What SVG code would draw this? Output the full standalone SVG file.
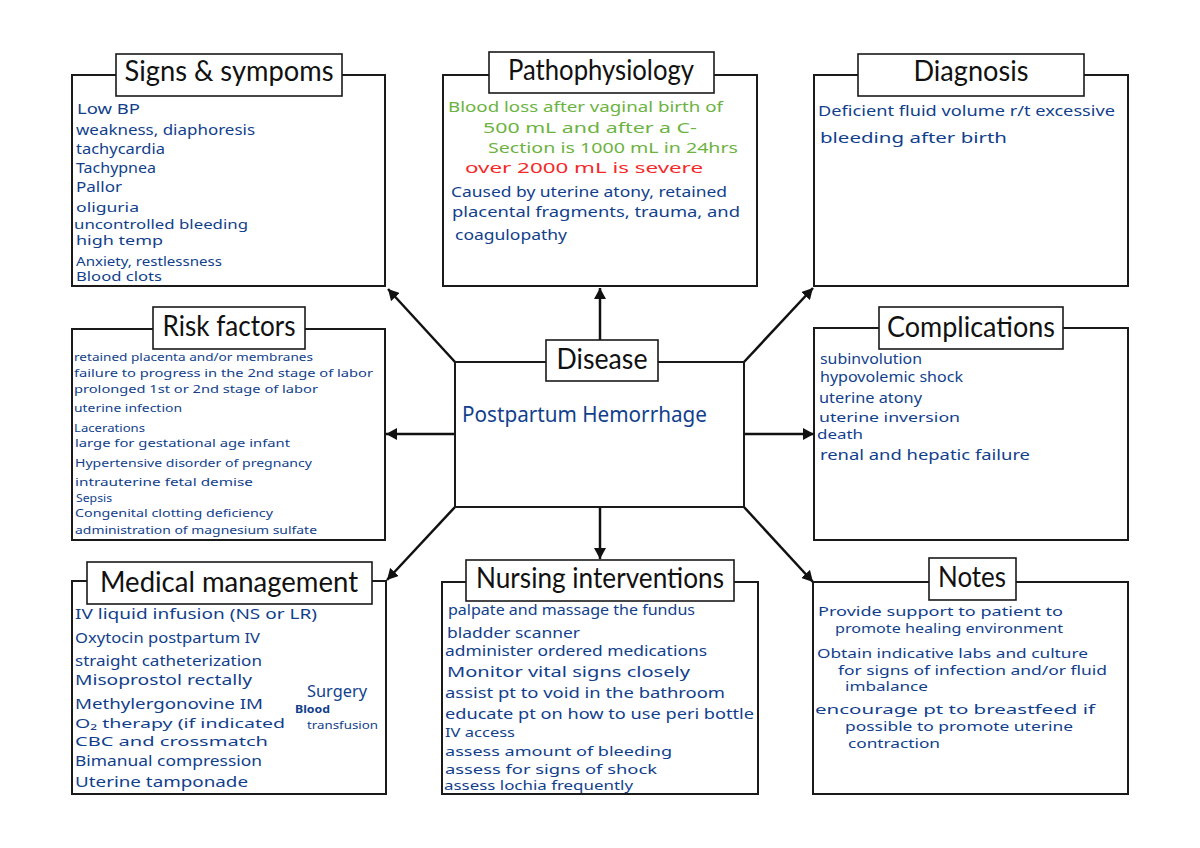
<svg xmlns="http://www.w3.org/2000/svg" width="1200" height="848" viewBox="0 0 1200 848">
<style>
.box{fill:#fff;stroke:#1a1a1a;stroke-width:2}
.tbox{fill:#fff;stroke:#1a1a1a;stroke-width:1.6}
.title{font-family:Lato,"Noto Sans","DejaVu Sans",sans-serif;font-size:28px;fill:#111;text-anchor:middle}
.h{font-family:"Noto Sans","DejaVu Sans",sans-serif;font-size:14px;fill:#123f8c}
.t{font-size:12.5px}
.s{font-size:11px}
.g{fill:#6cb33f}
.r{fill:#f42a2a}
.c{stroke:#111;stroke-width:2.5;fill:none}
</style>
<defs>
<marker id="ah" markerUnits="userSpaceOnUse" markerWidth="12" markerHeight="12" refX="11" refY="6" orient="auto">
<path d="M0,0 L11,6 L0,12 z" fill="#111"/>
</marker>
</defs>
<rect width="1200" height="848" fill="#fff"/>

<g id="connectors">
<line class="c" x1="600" y1="340" x2="600" y2="288" marker-end="url(#ah)"/>
<line class="c" x1="600" y1="507" x2="600" y2="559" marker-end="url(#ah)"/>
<line class="c" x1="455" y1="434" x2="386" y2="434" marker-end="url(#ah)"/>
<line class="c" x1="744" y1="434" x2="814" y2="434" marker-end="url(#ah)"/>
<line class="c" x1="455" y1="362" x2="388" y2="289" marker-end="url(#ah)"/>
<line class="c" x1="744" y1="362" x2="813" y2="288" marker-end="url(#ah)"/>
<line class="c" x1="455" y1="507" x2="387" y2="580" marker-end="url(#ah)"/>
<line class="c" x1="744" y1="507" x2="813" y2="582" marker-end="url(#ah)"/>
</g>

<g id="disease">
<rect class="box" x="455" y="362" width="289" height="145"/>
<rect class="tbox" x="546" y="340" width="112" height="41"/>
<text class="title" x="602" y="369" textLength="91" lengthAdjust="spacingAndGlyphs">Disease</text>
<text class="h" x="462" y="422" style="font-size:21px" textLength="245" lengthAdjust="spacingAndGlyphs">Postpartum Hemorrhage</text>
</g>

<g id="signs">
<rect class="box" x="72" y="75" width="313" height="211"/>
<rect class="tbox" x="116" y="54" width="226" height="42"/>
<text class="title" x="229" y="81" textLength="209" lengthAdjust="spacingAndGlyphs">Signs &amp; sympoms</text>
<text class="h" x="77" y="114" textLength="63" lengthAdjust="spacingAndGlyphs">Low BP</text>
<text class="h" x="76" y="135" textLength="179" lengthAdjust="spacingAndGlyphs">weakness, diaphoresis</text>
<text class="h" x="76" y="154" textLength="89" lengthAdjust="spacingAndGlyphs">tachycardia</text>
<text class="h" x="76" y="173" textLength="80" lengthAdjust="spacingAndGlyphs">Tachypnea</text>
<text class="h" x="76" y="192" textLength="46" lengthAdjust="spacingAndGlyphs">Pallor</text>
<text class="h t" x="76" y="212" textLength="63" lengthAdjust="spacingAndGlyphs">oliguria</text>
<text class="h t" x="74" y="229" textLength="174" lengthAdjust="spacingAndGlyphs">uncontrolled bleeding</text>
<text class="h t" x="76" y="245" textLength="87" lengthAdjust="spacingAndGlyphs">high temp</text>
<text class="h t" x="76" y="266" textLength="146" lengthAdjust="spacingAndGlyphs">Anxiety, restlessness</text>
<text class="h t" x="76" y="281" textLength="86" lengthAdjust="spacingAndGlyphs">Blood clots</text>
</g>

<g id="pathophysiology">
<rect class="box" x="443" y="75" width="314" height="211"/>
<rect class="tbox" x="489" y="52" width="225" height="41"/>
<text class="title" x="601" y="80" textLength="186" lengthAdjust="spacingAndGlyphs">Pathophysiology</text>
<text class="h g" x="448" y="112" textLength="275" lengthAdjust="spacingAndGlyphs">Blood loss after vaginal birth of</text>
<text class="h g" x="483" y="133" textLength="214" lengthAdjust="spacingAndGlyphs">500 mL  and after a C-</text>
<text class="h g" x="488" y="153" textLength="250" lengthAdjust="spacingAndGlyphs">Section is 1000 mL in 24hrs</text>
<text class="h r" x="465" y="173" textLength="238" lengthAdjust="spacingAndGlyphs">over  2000 mL  is  severe</text>
<text class="h" x="451" y="197" textLength="276" lengthAdjust="spacingAndGlyphs">Caused by uterine atony, retained</text>
<text class="h" x="452" y="217" textLength="288" lengthAdjust="spacingAndGlyphs">placental fragments, trauma, and</text>
<text class="h" x="455" y="240" textLength="112" lengthAdjust="spacingAndGlyphs">coagulopathy</text>
</g>

<g id="diagnosis">
<rect class="box" x="814" y="75" width="314" height="211"/>
<rect class="tbox" x="858" y="54" width="226" height="42"/>
<text class="title" x="971" y="81" textLength="115" lengthAdjust="spacingAndGlyphs">Diagnosis</text>
<text class="h" x="818" y="116" textLength="297" lengthAdjust="spacingAndGlyphs">Deficient fluid volume r/t excessive</text>
<text class="h" x="820" y="143" textLength="187" lengthAdjust="spacingAndGlyphs">bleeding after birth</text>
</g>

<g id="risk-factors">
<rect class="box" x="72" y="329" width="313" height="211"/>
<rect class="tbox" x="153" y="307" width="152" height="42"/>
<text class="title" x="229" y="336" textLength="133" lengthAdjust="spacingAndGlyphs">Risk factors</text>
<text class="h s" x="74" y="361" textLength="239" lengthAdjust="spacingAndGlyphs">retained placenta and/or membranes</text>
<text class="h s" x="74" y="377" textLength="299" lengthAdjust="spacingAndGlyphs">failure to progress in the 2nd stage of labor</text>
<text class="h s" x="74" y="393" textLength="244" lengthAdjust="spacingAndGlyphs">prolonged 1st or 2nd stage of labor</text>
<text class="h s" x="74" y="412" textLength="108" lengthAdjust="spacingAndGlyphs">uterine infection</text>
<text class="h s" x="74" y="432" textLength="71" lengthAdjust="spacingAndGlyphs">Lacerations</text>
<text class="h s" x="75" y="447" textLength="215" lengthAdjust="spacingAndGlyphs">large for gestational age  infant</text>
<text class="h s" x="75" y="467" textLength="237" lengthAdjust="spacingAndGlyphs">Hypertensive disorder of pregnancy</text>
<text class="h s" x="75" y="486" textLength="178" lengthAdjust="spacingAndGlyphs">intrauterine fetal demise</text>
<text class="h s" x="76" y="502" textLength="36" lengthAdjust="spacingAndGlyphs">Sepsis</text>
<text class="h s" x="75" y="517" textLength="198" lengthAdjust="spacingAndGlyphs">Congenital clotting deficiency</text>
<text class="h s" x="75" y="534" textLength="242" lengthAdjust="spacingAndGlyphs">administration of magnesium sulfate</text>
</g>

<g id="complications">
<rect class="box" x="814" y="328" width="314" height="212"/>
<rect class="tbox" x="879" y="307" width="184" height="42"/>
<text class="title" x="971" y="337" textLength="168" lengthAdjust="spacingAndGlyphs">Complications</text>
<text class="h" x="820" y="364" textLength="102" lengthAdjust="spacingAndGlyphs">subinvolution</text>
<text class="h" x="820" y="382" textLength="143" lengthAdjust="spacingAndGlyphs">hypovolemic shock</text>
<text class="h" x="819" y="403" textLength="103" lengthAdjust="spacingAndGlyphs">uterine atony</text>
<text class="h t" x="819" y="422" textLength="141" lengthAdjust="spacingAndGlyphs">uterine inversion</text>
<text class="h t" x="817" y="439" textLength="46" lengthAdjust="spacingAndGlyphs">death</text>
<text class="h" x="820" y="460" textLength="210" lengthAdjust="spacingAndGlyphs">renal and hepatic failure</text>
</g>

<g id="medical-management">
<rect class="box" x="72" y="581" width="314" height="213"/>
<rect class="tbox" x="87" y="562" width="285" height="42"/>
<text class="title" x="229" y="592" textLength="258" lengthAdjust="spacingAndGlyphs">Medical management</text>
<text class="h" x="75" y="619" textLength="242" lengthAdjust="spacingAndGlyphs">IV liquid infusion (NS or LR)</text>
<text class="h" x="75" y="643" textLength="185" lengthAdjust="spacingAndGlyphs">Oxytocin postpartum IV</text>
<text class="h" x="75" y="666" textLength="187" lengthAdjust="spacingAndGlyphs">straight catheterization</text>
<text class="h" x="75" y="685" textLength="177" lengthAdjust="spacingAndGlyphs">Misoprostol rectally</text>
<text class="h" x="75" y="709" textLength="188" lengthAdjust="spacingAndGlyphs">Methylergonovine  IM</text>
<text class="h t" x="75" y="728" textLength="210" lengthAdjust="spacingAndGlyphs">O₂ therapy (if indicated</text>
<text class="h t" x="75" y="746" textLength="193" lengthAdjust="spacingAndGlyphs">CBC and crossmatch</text>
<text class="h" x="75" y="766" textLength="187" lengthAdjust="spacingAndGlyphs">Bimanual compression</text>
<text class="h" x="75" y="787" textLength="173" lengthAdjust="spacingAndGlyphs">Uterine tamponade</text>
<text class="h" x="307" y="697" style="font-size:17px" textLength="60" lengthAdjust="spacingAndGlyphs">Surgery</text>
<text class="h" x="295" y="713" style="font-size:10px;font-weight:bold" textLength="35" lengthAdjust="spacingAndGlyphs">Blood</text>
<text class="h" x="307" y="729" style="font-size:11px" textLength="71" lengthAdjust="spacingAndGlyphs">transfusion</text>
</g>

<g id="nursing-interventions">
<rect class="box" x="442" y="582" width="316" height="212"/>
<rect class="tbox" x="466" y="560" width="268" height="41"/>
<text class="title" x="600" y="588" textLength="248" lengthAdjust="spacingAndGlyphs">Nursing interventions</text>
<text class="h" x="448" y="615" textLength="247" lengthAdjust="spacingAndGlyphs">palpate and massage the fundus</text>
<text class="h" x="447" y="638" textLength="133" lengthAdjust="spacingAndGlyphs">bladder scanner</text>
<text class="h" x="445" y="656" textLength="262" lengthAdjust="spacingAndGlyphs">administer ordered medications</text>
<text class="h" x="447" y="677" textLength="243" lengthAdjust="spacingAndGlyphs">Monitor vital signs closely</text>
<text class="h" x="445" y="698" textLength="280" lengthAdjust="spacingAndGlyphs">assist pt to void in the bathroom</text>
<text class="h" x="445" y="719" textLength="309" lengthAdjust="spacingAndGlyphs">educate pt on how to use peri bottle</text>
<text class="h t" x="445" y="737" textLength="70" lengthAdjust="spacingAndGlyphs">IV access</text>
<text class="h t" x="445" y="756" textLength="227" lengthAdjust="spacingAndGlyphs">assess amount of bleeding</text>
<text class="h t" x="445" y="774" textLength="212" lengthAdjust="spacingAndGlyphs">assess for signs of shock</text>
<text class="h t" x="444" y="790" textLength="189" lengthAdjust="spacingAndGlyphs">assess lochia frequently</text>
</g>

<g id="notes">
<rect class="box" x="813" y="582" width="315" height="212"/>
<rect class="tbox" x="929" y="558" width="87" height="42"/>
<text class="title" x="972" y="587" textLength="68" lengthAdjust="spacingAndGlyphs">Notes</text>
<text class="h t" x="818" y="616" textLength="245" lengthAdjust="spacingAndGlyphs">Provide support to patient to</text>
<text class="h t" x="835" y="633" textLength="228" lengthAdjust="spacingAndGlyphs">promote healing environment</text>
<text class="h t" x="817" y="658" textLength="271" lengthAdjust="spacingAndGlyphs">Obtain indicative labs and culture</text>
<text class="h t" x="838" y="675" textLength="269" lengthAdjust="spacingAndGlyphs">for signs of infection and/or fluid</text>
<text class="h t" x="845" y="691" textLength="83" lengthAdjust="spacingAndGlyphs">imbalance</text>
<text class="h t" x="815" y="714" textLength="280" lengthAdjust="spacingAndGlyphs">encourage pt to breastfeed if</text>
<text class="h t" x="845" y="731" textLength="228" lengthAdjust="spacingAndGlyphs">possible to promote uterine</text>
<text class="h t" x="848" y="748" textLength="92" lengthAdjust="spacingAndGlyphs">contraction</text>
</g>
</svg>
